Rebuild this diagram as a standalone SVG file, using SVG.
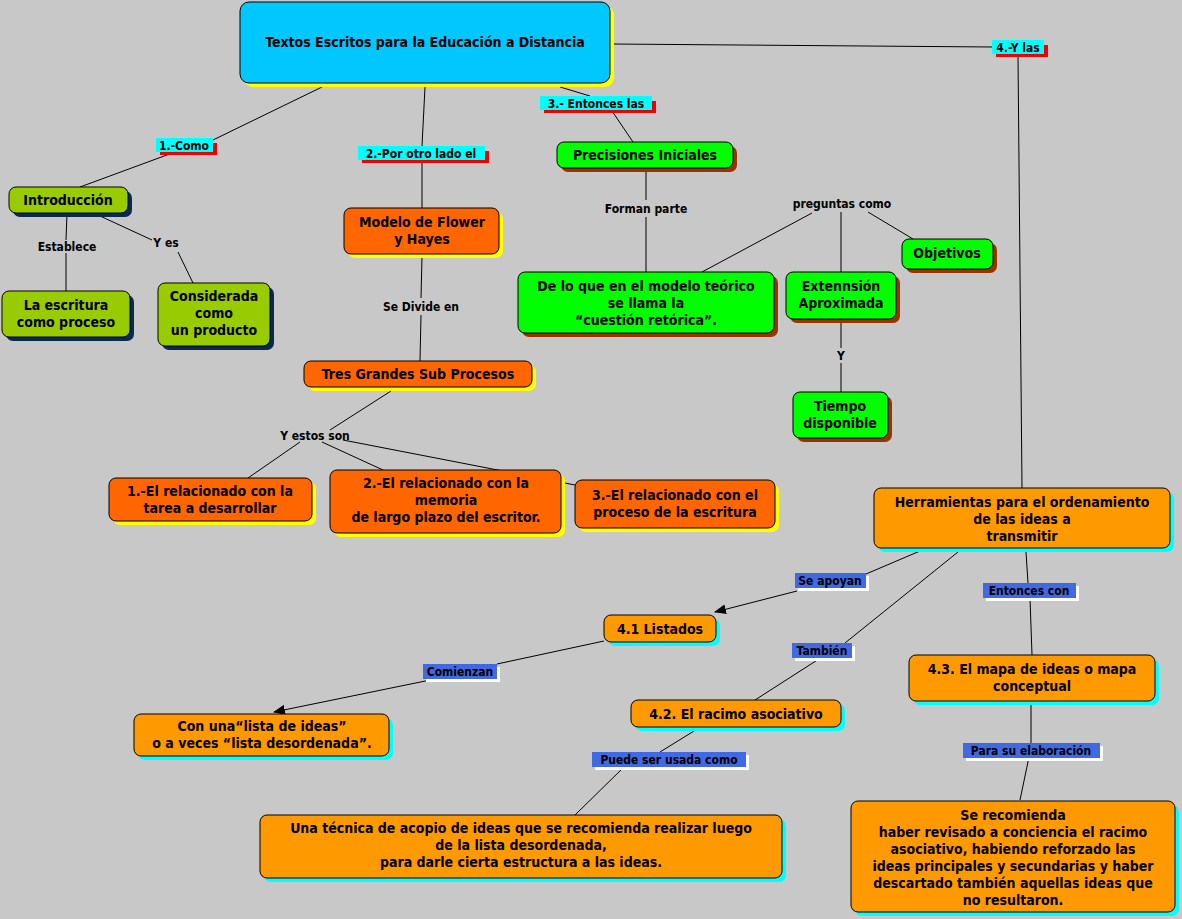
<svg xmlns="http://www.w3.org/2000/svg" width="1182" height="919" viewBox="0 0 1182 919">
<style>
text{font-family:"DejaVu Sans Condensed","DejaVu Sans",sans-serif;font-weight:bold;font-size:14px;fill:#000;text-anchor:middle}
.sm{font-size:12px}
.n{stroke:#000;stroke-width:1}
.c line{stroke:#000;stroke-width:1}
</style>
<defs><marker id="ar" markerWidth="12" markerHeight="10" refX="11" refY="5" orient="auto" markerUnits="userSpaceOnUse"><path d="M0,0L12,5L0,10z" fill="#000"/></marker></defs>
<rect width="1182" height="919" fill="#c8c8c8"/>
<g class="c">
<line x1="322" y1="87" x2="213" y2="140"/><line x1="175" y1="152" x2="80" y2="187"/>
<line x1="67" y1="213" x2="66" y2="240"/><line x1="66" y1="253" x2="66" y2="291"/>
<line x1="100" y1="216" x2="152" y2="240"/><line x1="178" y1="252" x2="193" y2="283"/>
<line x1="425" y1="87" x2="422" y2="146"/><line x1="422" y1="160" x2="422" y2="208"/>
<line x1="422" y1="256" x2="421" y2="298"/><line x1="421" y1="315" x2="420" y2="361"/>
<line x1="391" y1="391" x2="330" y2="430"/><line x1="300" y1="442" x2="248" y2="478"/>
<line x1="322" y1="442" x2="383" y2="470"/><line x1="343" y1="440" x2="575" y2="485"/>
<line x1="560" y1="87" x2="590" y2="96"/><line x1="612" y1="111" x2="633" y2="142"/>
<line x1="646" y1="172" x2="646" y2="200"/><line x1="646" y1="217" x2="646" y2="272"/>
<line x1="812" y1="213" x2="702" y2="272"/><line x1="841" y1="212" x2="841" y2="272"/>
<line x1="868" y1="212" x2="913" y2="239"/>
<line x1="841" y1="322" x2="841" y2="348"/><line x1="841" y1="363" x2="841" y2="392"/>
<line x1="612" y1="44" x2="993" y2="47"/><line x1="1018" y1="56" x2="1022" y2="488"/>
<line x1="920" y1="551" x2="866" y2="574"/><line x1="797" y1="591" x2="715" y2="612" marker-end="url(#ar)"/>
<line x1="958" y1="552" x2="845" y2="643"/><line x1="822" y1="657" x2="755" y2="700"/>
<line x1="1026" y1="552" x2="1028" y2="583"/><line x1="1030" y1="598" x2="1032" y2="655"/>
<line x1="604" y1="641" x2="497" y2="664"/><line x1="440" y1="678" x2="274" y2="712" marker-end="url(#ar)"/>
<line x1="694" y1="731" x2="660" y2="752"/><line x1="625" y1="766" x2="575" y2="815"/>
<line x1="1031" y1="705" x2="1031" y2="743"/><line x1="1029" y1="757" x2="1020" y2="800"/>
</g>
<g id="lbl-como"><rect x="160" y="143" width="57" height="12" fill="#e00"/><rect x="156" y="138" width="57" height="14" fill="#0ff"/><text x="184" y="150" class="sm">1.-Como</text></g>
<g id="lbl-otro"><rect x="362" y="151" width="127" height="12" fill="#e00"/><rect x="358" y="146" width="127" height="14" fill="#0ff"/><text x="421" y="158" class="sm">2.-Por otro lado el</text></g>
<g id="lbl-entonces"><rect x="544" y="101" width="112" height="12" fill="#e00"/><rect x="540" y="96" width="112" height="14" fill="#0ff"/><text x="596" y="108" class="sm">3.- Entonces las</text></g>
<g id="lbl-ylas"><rect x="996" y="45" width="52" height="12" fill="#e00"/><rect x="992" y="40" width="52" height="14" fill="#0ff"/><text x="1018" y="52" class="sm">4.-Y las</text></g>
<text x="67" y="251" class="sm">Establece</text>
<text x="166" y="247" class="sm">Y es</text>
<text x="646" y="213" class="sm">Forman parte</text>
<text x="842" y="208" class="sm">preguntas como</text>
<text x="421" y="311" class="sm">Se Divide en</text>
<text x="315" y="440" class="sm">Y estos son</text>
<text x="841" y="360" class="sm">Y</text>
<g id="lbl-apoyan"><rect x="798" y="576" width="71" height="15" fill="#fff"/><rect x="795" y="573" width="71" height="15" fill="#4169e1"/><text x="830" y="585" class="sm">Se apoyan</text></g>
<g id="lbl-entcon"><rect x="986" y="586" width="93" height="15" fill="#fff"/><rect x="983" y="583" width="93" height="15" fill="#4169e1"/><text x="1029" y="595" class="sm">Entonces con</text></g>
<g id="lbl-tambien"><rect x="795" y="646" width="60" height="15" fill="#fff"/><rect x="792" y="643" width="60" height="15" fill="#4169e1"/><text x="822" y="655" class="sm">También</text></g>
<g id="lbl-comienzan"><rect x="426" y="667" width="74" height="15" fill="#fff"/><rect x="423" y="664" width="74" height="15" fill="#4169e1"/><text x="460" y="676" class="sm">Comienzan</text></g>
<g id="lbl-puede"><rect x="595" y="755" width="154" height="15" fill="#fff"/><rect x="592" y="752" width="154" height="15" fill="#4169e1"/><text x="669" y="764" class="sm">Puede ser usada como</text></g>
<g id="lbl-para"><rect x="966" y="746" width="137" height="15" fill="#fff"/><rect x="963" y="743" width="137" height="15" fill="#4169e1"/><text x="1031" y="755" class="sm">Para su elaboración</text></g>

<g id="main"><rect x="244" y="6" width="370" height="81" rx="9" fill="#ff0"/><rect x="240" y="2" width="370" height="81" rx="9" fill="#00c8ff" class="n"/><text x="425" y="47">Textos Escritos para la Educación a Distancia</text></g>
<g id="intro"><rect x="13" y="191" width="119" height="26" rx="7" fill="#0a2850"/><rect x="9" y="187" width="119" height="26" rx="7" fill="#99cc00" class="n"/><text x="68" y="205">Introducción</text></g>
<g id="escritura"><rect x="6" y="295" width="128" height="46" rx="7" fill="#0a2850"/><rect x="2" y="291" width="128" height="46" rx="7" fill="#99cc00" class="n"/><text x="66" y="310">La escritura</text><text x="66" y="327">como proceso</text></g>
<g id="considerada"><rect x="162" y="287" width="112" height="63" rx="7" fill="#0a2850"/><rect x="158" y="283" width="112" height="63" rx="7" fill="#99cc00" class="n"/><text x="214" y="301">Considerada</text><text x="214" y="318">como</text><text x="214" y="335">un producto</text></g>
<g id="modelo"><rect x="348" y="212" width="155" height="46" rx="7" fill="#ff0"/><rect x="344" y="208" width="155" height="46" rx="7" fill="#ff6600" class="n"/><text x="422" y="227">Modelo de Flower</text><text x="422" y="244">y Hayes</text></g>
<g id="tres"><rect x="308" y="365" width="228" height="26" rx="7" fill="#ff0"/><rect x="304" y="361" width="228" height="26" rx="7" fill="#ff6600" class="n"/><text x="418" y="379">Tres Grandes Sub Procesos</text></g>
<g id="sub1"><rect x="113" y="482" width="203" height="43" rx="7" fill="#ff0"/><rect x="109" y="478" width="203" height="43" rx="7" fill="#ff6600" class="n"/><text x="210" y="496">1.-El relacionado con la</text><text x="210" y="513">tarea a desarrollar</text></g>
<g id="sub2"><rect x="334" y="474" width="231" height="63" rx="7" fill="#ff0"/><rect x="330" y="470" width="231" height="63" rx="7" fill="#ff6600" class="n"/><text x="446" y="488">2.-El relacionado con la</text><text x="446" y="505">memoria</text><text x="446" y="522">de largo plazo del escritor.</text></g>
<g id="sub3"><rect x="579" y="484" width="200" height="48" rx="7" fill="#ff0"/><rect x="575" y="480" width="200" height="48" rx="7" fill="#ff6600" class="n"/><text x="675" y="500">3.-El relacionado con el</text><text x="675" y="517">proceso de la escritura</text></g>
<g id="precisiones"><rect x="561" y="146" width="176" height="26" rx="7" fill="#993300"/><rect x="557" y="142" width="176" height="26" rx="7" fill="#00ff00" class="n"/><text x="645" y="160">Precisiones Iniciales</text></g>
<g id="delo"><rect x="522" y="276" width="256" height="61" rx="7" fill="#993300"/><rect x="518" y="272" width="256" height="61" rx="7" fill="#00ff00" class="n"/><text x="646" y="291">De lo que en el modelo teórico</text><text x="646" y="308">se llama la</text><text x="646" y="325">“cuestión retórica”.</text></g>
<g id="extension"><rect x="790" y="276" width="110" height="47" rx="7" fill="#993300"/><rect x="786" y="272" width="110" height="47" rx="7" fill="#00ff00" class="n"/><text x="841" y="291">Extennsión</text><text x="841" y="308">Aproximada</text></g>
<g id="objetivos"><rect x="906" y="243" width="91" height="30" rx="7" fill="#993300"/><rect x="902" y="239" width="91" height="30" rx="7" fill="#00ff00" class="n"/><text x="947" y="258">Objetivos</text></g>
<g id="tiempo"><rect x="797" y="396" width="95" height="46" rx="7" fill="#993300"/><rect x="793" y="392" width="95" height="46" rx="7" fill="#00ff00" class="n"/><text x="840" y="411">Tiempo</text><text x="840" y="428">disponible</text></g>
<g id="herramientas"><rect x="878" y="492" width="296" height="60" rx="7" fill="#0ff"/><rect x="874" y="488" width="296" height="60" rx="7" fill="#ff9900" class="n"/><text x="1022" y="507">Herramientas para el ordenamiento</text><text x="1022" y="524">de las ideas a</text><text x="1022" y="541">transmitir</text></g>
<g id="listados"><rect x="608" y="619" width="112" height="27" rx="7" fill="#0ff"/><rect x="604" y="615" width="112" height="27" rx="7" fill="#ff9900" class="n"/><text x="660" y="634">4.1 Listados</text></g>
<g id="lista"><rect x="138" y="718" width="255" height="42" rx="7" fill="#0ff"/><rect x="134" y="714" width="255" height="42" rx="7" fill="#ff9900" class="n"/><text x="262" y="731">Con una“lista de ideas”</text><text x="262" y="748">o a veces “lista desordenada”.</text></g>
<g id="racimo"><rect x="635" y="704" width="210" height="27" rx="7" fill="#0ff"/><rect x="631" y="700" width="210" height="27" rx="7" fill="#ff9900" class="n"/><text x="736" y="719">4.2. El racimo asociativo</text></g>
<g id="tecnica"><rect x="264" y="819" width="522" height="63" rx="7" fill="#0ff"/><rect x="260" y="815" width="522" height="63" rx="7" fill="#ff9900" class="n"/><text x="521" y="833">Una técnica de acopio de ideas que se recomienda realizar luego</text><text x="521" y="850">de la lista desordenada,</text><text x="521" y="867">para darle cierta estructura a las ideas.</text></g>
<g id="mapa"><rect x="913" y="659" width="246" height="46" rx="7" fill="#0ff"/><rect x="909" y="655" width="246" height="46" rx="7" fill="#ff9900" class="n"/><text x="1032" y="674">4.3. El mapa de ideas o mapa</text><text x="1032" y="691">conceptual</text></g>
<g id="recomienda"><rect x="855" y="805" width="324" height="111" rx="7" fill="#0ff"/><rect x="851" y="801" width="324" height="111" rx="7" fill="#ff9900" class="n"/><text x="1013" y="820">Se recomienda</text><text x="1013" y="837">haber revisado a conciencia el racimo</text><text x="1013" y="854">asociativo, habiendo reforzado las</text><text x="1013" y="871">ideas principales y secundarias y haber</text><text x="1013" y="888">descartado también aquellas ideas que</text><text x="1013" y="905">no resultaron.</text></g>
</svg>
